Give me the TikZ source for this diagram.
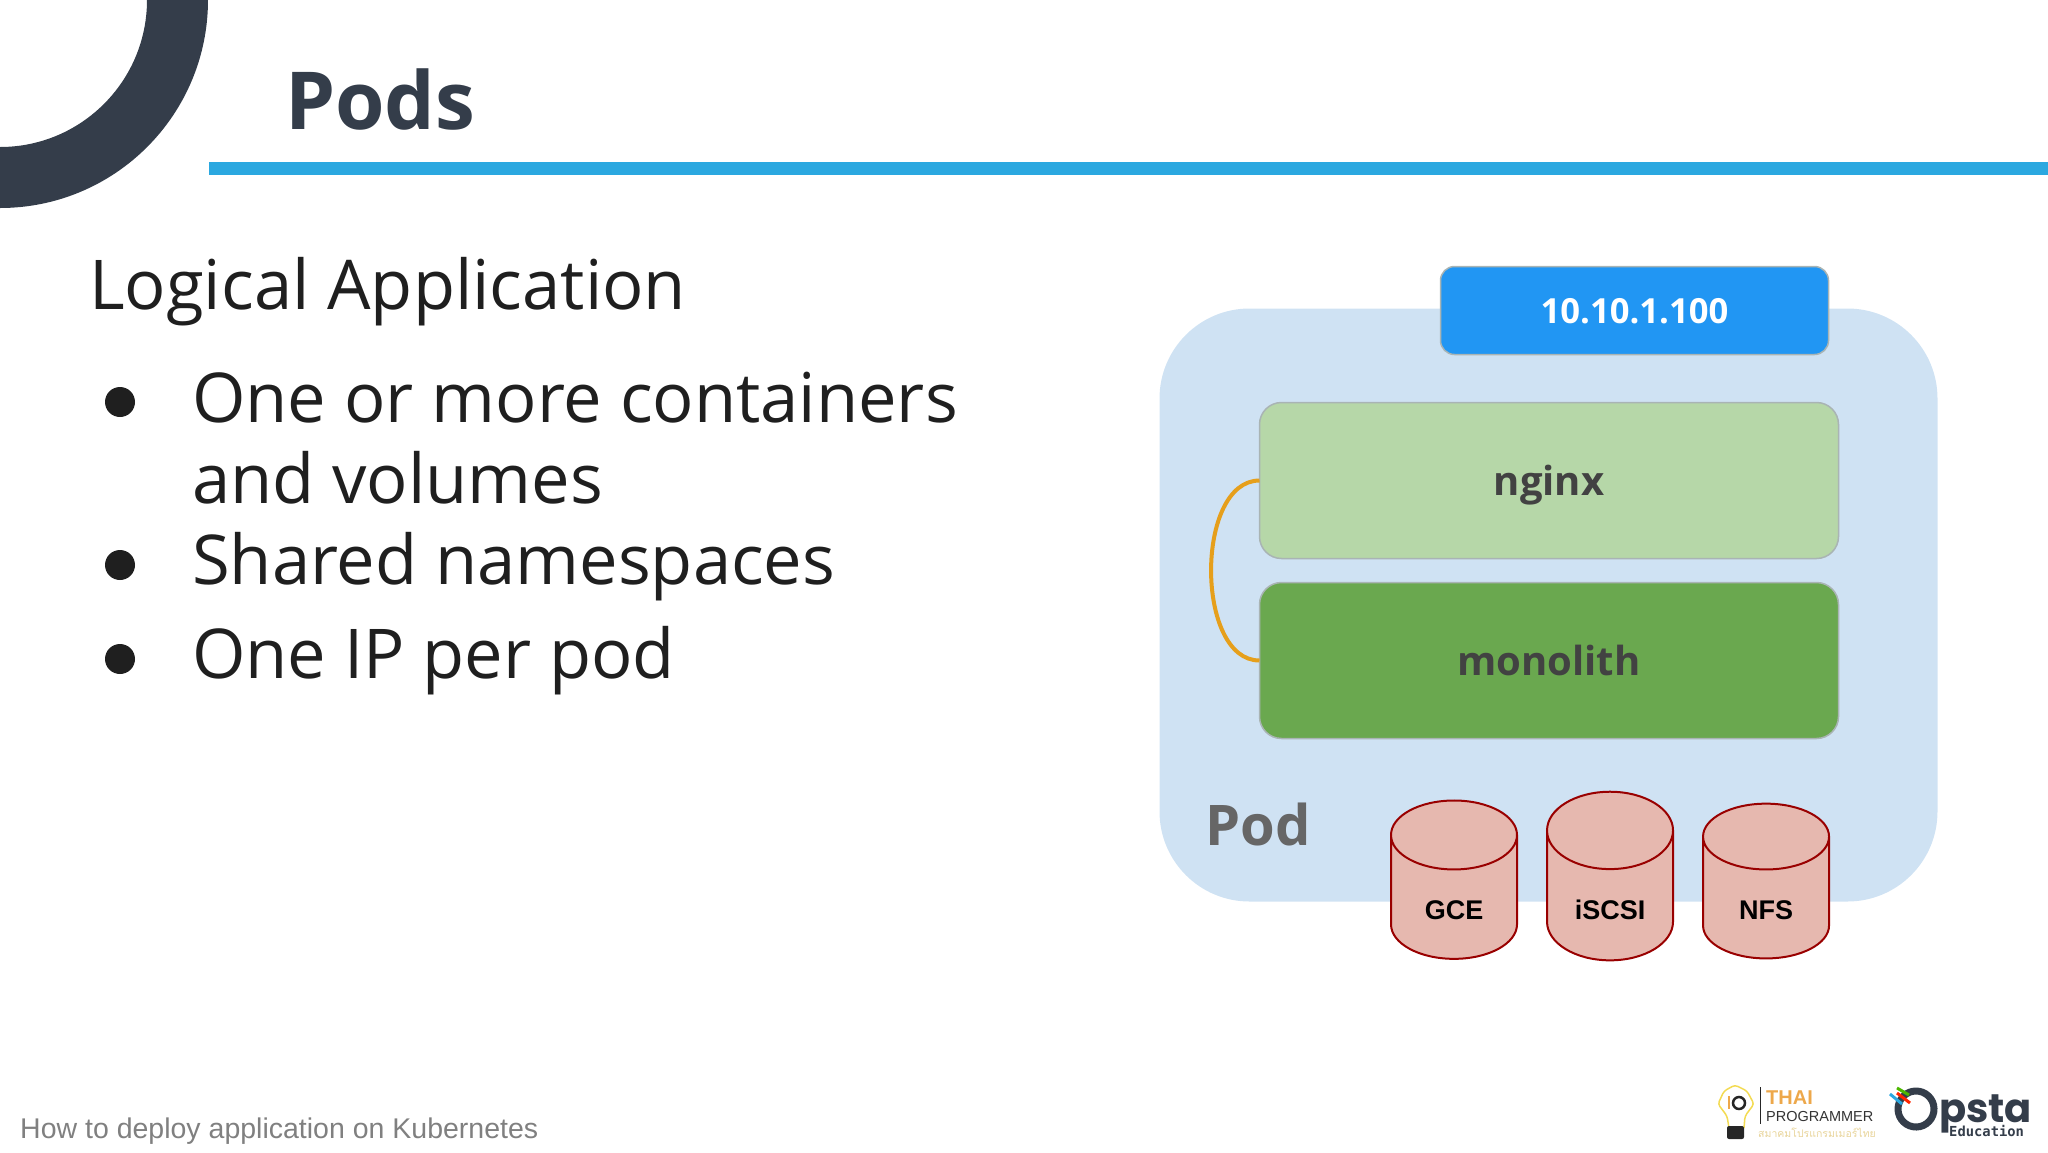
\documentclass[tikz,border=0pt]{standalone}
\usepackage{fontspec}
\setmainfont{Open Sans}
\newfontfamily\footfont{Liberation Sans}
\newfontfamily\thaifont[Script=Thai]{Loma}
\newfontfamily\opstafont{Poppins}
\newfontfamily\edufont{DejaVu Sans Mono}
\usetikzlibrary{positioning,shapes.geometric}
\definecolor{navy}{HTML}{343D4A}
\definecolor{rule}{HTML}{2BA8E0}
\definecolor{podblue}{HTML}{CFE2F3}
\definecolor{ipblue}{HTML}{2196F3}
\definecolor{edgegrey}{HTML}{A9B4B4}
\definecolor{lightgreen}{HTML}{B6D7A8}
\definecolor{darkgreen}{HTML}{6AA84F}
\definecolor{linkorange}{HTML}{E69F1B}
\definecolor{volred}{HTML}{990000}
\definecolor{volfill}{HTML}{E6B8AF}
\definecolor{tpgold}{HTML}{EDA84B}
\definecolor{tppale}{HTML}{E8D49A}
\tikzset{
  boxstyle/.style={draw=edgegrey, line width=1.5pt, rounded corners=22pt, minimum width=579pt, minimum height=156pt, outer sep=0pt, inner sep=0pt, text=black!74, text height=30pt, text depth=0pt, font=\fontsize{40}{48}\selectfont\bfseries},
  volstyle/.style={cylinder, shape border rotate=90, shape aspect=0.7, draw=volred, line width=2pt, cylinder uses custom fill, cylinder end fill=volfill, cylinder body fill=volfill, minimum width=126pt, minimum height=130pt, outer sep=0pt, inner xsep=20pt, inner ysep=30pt, font=\footfont\fontsize{27}{32}\selectfont\bfseries},
  listtext/.style={anchor=base west, text=black!88, font=\fontsize{68.7}{76}\selectfont},
  dotstyle/.style={circle, fill=black!88, minimum size=30pt, inner sep=0pt}
}
\begin{document}
\begin{tikzpicture}[x=1pt,y=-1pt]
\useasboundingbox (0,0) rectangle (2048,1152);
% header
\fill[navy] (208,0) arc[start angle=0,end angle=-90,radius=208pt] -- (0,147) arc[start angle=-90,end angle=0,radius=147pt] -- cycle;
\node [anchor=base west, inner sep=0pt, text=navy, font=\fontsize{80}{96}\selectfont\bfseries] (title) at (285,129) {Pods};
\fill[rule] (209,162) rectangle (2048,175);
% left text
\node [listtext, inner sep=0pt] (logical) at (89,309) {Logical Application};
\node [listtext, inner sep=0pt] (one) at (192,422) {One or more containers};
\node [listtext, inner sep=0pt] (and) at (192,503) {and volumes};
\node [listtext, inner sep=0pt] (shared) at (192,584) {Shared namespaces};
\node [listtext, inner sep=0pt] (ip) at (192,678) {One IP per pod};
\node [dotstyle] (dota) at (120,402) {};
\node [dotstyle] (dotb) at (120,565) {};
\node [dotstyle] (dotc) at (120,659) {};
% pod
\node [fill=podblue, rounded corners=90pt, minimum width=778pt, minimum height=593pt, outer sep=0pt, inner sep=0pt] (pod) at (1548.5,605) {};
\node [draw=edgegrey, fill=ipblue, line width=1.5pt, rounded corners=14pt, minimum width=388pt, minimum height=88pt, outer sep=0pt, text=white, text height=25pt, text depth=0pt, font=\fontsize{34.6}{38}\selectfont\bfseries] (ipaddr) at (1634.5,310.5) {10.10.1.100};
\node [boxstyle, fill=lightgreen] (nginx) at (1549,480.5) {nginx};
\node [boxstyle, fill=darkgreen, below=24pt of nginx] (monolith) {monolith};
\node [anchor=base west, inner sep=0pt, text=black!60, font=\fontsize{56}{64}\selectfont\bfseries] (podlabel) at (1205,845) {Pod};
\draw[linkorange, line width=4pt] (nginx.west) to [out=180,in=180,looseness=0.92] (monolith.west);
% volumes
\node [volstyle] (gce) at (1454,910) {GCE};
\node [volstyle, right=30pt of gce] (iscsi) {iSCSI};
\node [volstyle, right=30pt of iscsi] (nfs) {NFS};
% footer
\node [anchor=base west, inner sep=0pt, text=black!50, font=\footfont\fontsize{28.5}{34}\selectfont] (footer) at (20,1138) {How to deploy application on Kubernetes};
\begin{scope}[shift={(9,4)}]
% thai programmer logo
\draw[tppale!60!yellow!90!orange, line width=1.5pt, rounded corners=3pt] (1720,1124) -- (1718,1112) -- (1709,1100) -- (1715,1087) -- (1726,1081) -- (1738,1087) -- (1745,1100) -- (1736,1112) -- (1735,1124);
\draw[tpgold, line width=2pt] (1720,1092) -- (1720,1105);
\draw[black!85, line width=2.5pt] (1730,1099) circle[radius=6pt];
\fill[black!85, rounded corners=2pt] (1718,1122) rectangle (1735,1135);
\fill[black!85] (1751,1083) rectangle (1752,1120);
\node [anchor=base west, inner sep=0pt, text=tpgold, font=\footfont\fontsize{20}{22}\selectfont\bfseries] (thai) at (1757,1100.7) {THAI};
\node [anchor=base west, inner sep=0pt, text=black!80, font=\footfont\fontsize{14.5}{16}\selectfont] (prog) at (1757,1117) {PROGRAMMER};
\node [anchor=base west, inner sep=0pt, text=tppale, font=\thaifont\fontsize{10.5}{12}\selectfont] (thaitext) at (1749,1133) {สมาคมโปรแกรมเมอร์ไทย};
% opsta logo
\draw[navy, line width=7pt] (1907,1105) ++(170:18pt) arc[start angle=170,end angle=-270,radius=18pt];
\draw[rule, line width=3pt] (1881,1090) -- (1893,1100);
\draw[red!70!orange, line width=3pt] (1888,1089) -- (1901,1099);
\draw[green!60!black!70!yellow, line width=3pt] (1888,1084) -- (1900,1091);
\node [anchor=base west, inner sep=0pt, text=navy, font=\opstafont\fontsize{40}{44}\selectfont\bfseries] (psta) at (1930,1118) {psta};
\node [anchor=base west, inner sep=0pt, text=navy, font=\edufont\fontsize{13.8}{16}\selectfont\bfseries] (edu) at (1940,1132.7) {Education};
\end{scope}
\end{tikzpicture}
\end{document}
